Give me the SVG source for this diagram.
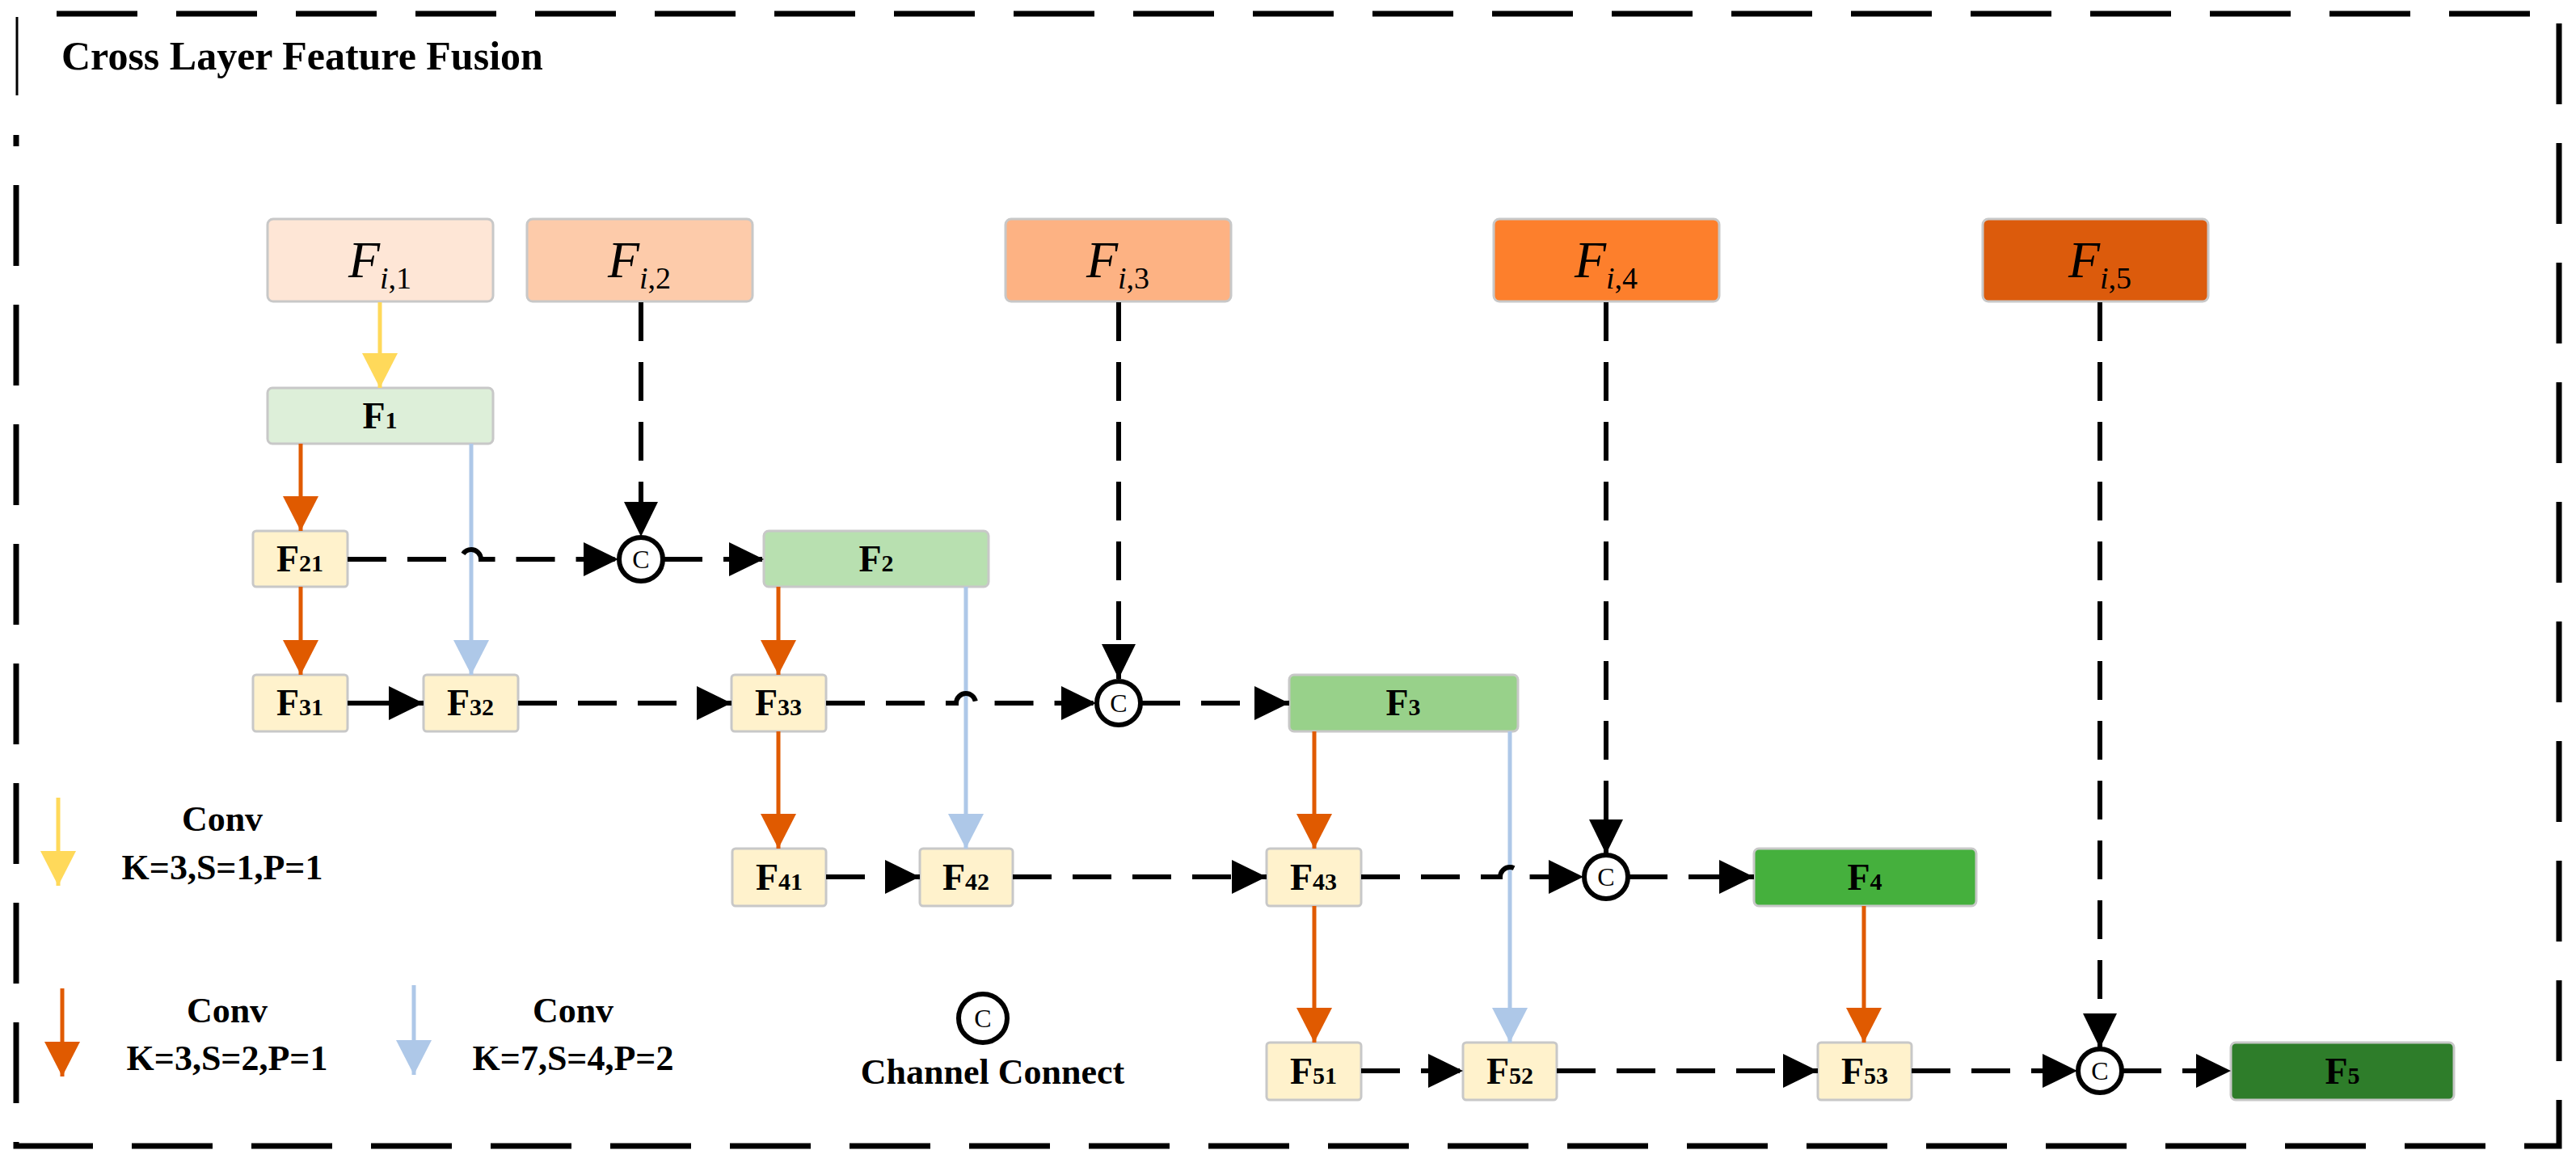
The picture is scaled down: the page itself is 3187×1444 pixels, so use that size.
<svg xmlns="http://www.w3.org/2000/svg" width="3187" height="1444" viewBox="0 0 3187 1444">
<defs>
<style>
.box{stroke:#C8C8C8;stroke-width:3}
.lbl{font-family:"Liberation Serif",serif;font-weight:bold;font-size:46px;text-anchor:middle;fill:#000}
.fi{font-family:"Liberation Serif",serif;font-size:64px;text-anchor:middle;fill:#000}
.cc{fill:#fff;stroke:#000;stroke-width:6}
.ct{font-family:"Liberation Serif",serif;font-size:32px;text-anchor:middle;fill:#000}
.dash{fill:none;stroke:#000;stroke-width:6;stroke-dasharray:48 26}
.solid{fill:none;stroke:#000;stroke-width:6}
.or{fill:none;stroke:#E05A00;stroke-width:5}
.bl{fill:none;stroke:#AEC8E8;stroke-width:5}
.ye{fill:none;stroke:#FFD95A;stroke-width:5}
.leg{font-family:"Liberation Serif",serif;font-weight:bold;font-size:44px;text-anchor:middle;fill:#000}
</style>
<marker id="ak" markerUnits="userSpaceOnUse" markerWidth="43" markerHeight="42" refX="43" refY="21" orient="auto"><path d="M0,0L43,21L0,42z" fill="#000"/></marker>
<marker id="ao" markerUnits="userSpaceOnUse" markerWidth="43" markerHeight="44" refX="43" refY="22" orient="auto"><path d="M0,0L43,22L0,44z" fill="#E05A00"/></marker>
<marker id="ab" markerUnits="userSpaceOnUse" markerWidth="43" markerHeight="44" refX="43" refY="22" orient="auto"><path d="M0,0L43,22L0,44z" fill="#AEC8E8"/></marker>
<marker id="ay" markerUnits="userSpaceOnUse" markerWidth="43" markerHeight="44" refX="43" refY="22" orient="auto"><path d="M0,0L43,22L0,44z" fill="#FFD95A"/></marker>
</defs>
<rect width="3187" height="1444" fill="#fff"/>
<g id="frame" fill="none" stroke="#000">
<path d="M21,21V118" stroke-width="3"/>
<path d="M70,17H3166V1418H20V167" stroke-width="7" stroke-dasharray="100 48"/>
</g>
<text x="76" y="86" font-family="Liberation Serif,serif" font-weight="bold" font-size="50">Cross Layer Feature Fusion</text>

<g id="Fi1"><rect class="box" x="331" y="271" width="279" height="102" rx="7" fill="#FEE6D6"/><text class="fi" x="470" y="343"><tspan font-style="italic">F</tspan><tspan font-size="38" dy="14"><tspan font-style="italic">i</tspan>,1</tspan></text></g>
<g id="Fi2"><rect class="box" x="652" y="271" width="279" height="102" rx="7" fill="#FDCBAA"/><text class="fi" x="791" y="343"><tspan font-style="italic">F</tspan><tspan font-size="38" dy="14"><tspan font-style="italic">i</tspan>,2</tspan></text></g>
<g id="Fi3"><rect class="box" x="1244" y="271" width="279" height="102" rx="7" fill="#FDB283"/><text class="fi" x="1383" y="343"><tspan font-style="italic">F</tspan><tspan font-size="38" dy="14"><tspan font-style="italic">i</tspan>,3</tspan></text></g>
<g id="Fi4"><rect class="box" x="1848" y="271" width="279" height="102" rx="7" fill="#FD7F2C"/><text class="fi" x="1987" y="343"><tspan font-style="italic">F</tspan><tspan font-size="38" dy="14"><tspan font-style="italic">i</tspan>,4</tspan></text></g>
<g id="Fi5"><rect class="box" x="2453" y="271" width="279" height="102" rx="7" fill="#DC5B0C"/><text class="fi" x="2598" y="343"><tspan font-style="italic">F</tspan><tspan font-size="38" dy="14"><tspan font-style="italic">i</tspan>,5</tspan></text></g>

<g id="F1"><rect class="box" x="331" y="480" width="279" height="69" rx="6" fill="#DDEFD9"/><text class="lbl" x="470" y="530">F<tspan font-size="30">1</tspan></text></g>
<g id="F2"><rect class="box" x="945" y="657" width="278" height="69" rx="6" fill="#B8E0B0"/><text class="lbl" x="1084" y="707">F<tspan font-size="30">2</tspan></text></g>
<g id="F3"><rect class="box" x="1595" y="835" width="283" height="70" rx="6" fill="#98D18A"/><text class="lbl" x="1736" y="885">F<tspan font-size="30">3</tspan></text></g>
<g id="F4"><rect class="box" x="2170" y="1050" width="275" height="71" rx="6" fill="#45B03D"/><text class="lbl" x="2307" y="1101">F<tspan font-size="30">4</tspan></text></g>
<g id="F5"><rect class="box" x="2760" y="1290" width="276" height="71" rx="6" fill="#2E7D2A"/><text class="lbl" x="2898" y="1341">F<tspan font-size="30">5</tspan></text></g>

<g id="F21"><rect class="box" x="313" y="657" width="117" height="69" rx="4" fill="#FFF2CC"/><text class="lbl" x="371" y="707">F<tspan font-size="30">21</tspan></text></g>
<g id="F31"><rect class="box" x="313" y="835" width="117" height="70" rx="4" fill="#FFF2CC"/><text class="lbl" x="371" y="885">F<tspan font-size="30">31</tspan></text></g>
<g id="F32"><rect class="box" x="524" y="835" width="117" height="70" rx="4" fill="#FFF2CC"/><text class="lbl" x="582" y="885">F<tspan font-size="30">32</tspan></text></g>
<g id="F33"><rect class="box" x="905" y="835" width="117" height="70" rx="4" fill="#FFF2CC"/><text class="lbl" x="963" y="885">F<tspan font-size="30">33</tspan></text></g>
<g id="F41"><rect class="box" x="906" y="1050" width="116" height="71" rx="4" fill="#FFF2CC"/><text class="lbl" x="964" y="1101">F<tspan font-size="30">41</tspan></text></g>
<g id="F42"><rect class="box" x="1138" y="1050" width="115" height="71" rx="4" fill="#FFF2CC"/><text class="lbl" x="1195" y="1101">F<tspan font-size="30">42</tspan></text></g>
<g id="F43"><rect class="box" x="1567" y="1050" width="117" height="71" rx="4" fill="#FFF2CC"/><text class="lbl" x="1625" y="1101">F<tspan font-size="30">43</tspan></text></g>
<g id="F51"><rect class="box" x="1567" y="1290" width="117" height="71" rx="4" fill="#FFF2CC"/><text class="lbl" x="1625" y="1341">F<tspan font-size="30">51</tspan></text></g>
<g id="F52"><rect class="box" x="1810" y="1290" width="116" height="71" rx="4" fill="#FFF2CC"/><text class="lbl" x="1868" y="1341">F<tspan font-size="30">52</tspan></text></g>
<g id="F53"><rect class="box" x="2249" y="1290" width="116" height="71" rx="4" fill="#FFF2CC"/><text class="lbl" x="2307" y="1341">F<tspan font-size="30">53</tspan></text></g>

<g id="connectors">
<path class="ye" d="M470,374V480" marker-end="url(#ay)"/>
<path class="or" d="M372,549V657" marker-end="url(#ao)"/>
<path class="or" d="M372,726V835" marker-end="url(#ao)"/>
<path class="bl" d="M583,549V835" marker-end="url(#ab)"/>
<path class="or" d="M963,726V835" marker-end="url(#ao)"/>
<path class="bl" d="M1195,726V1050" marker-end="url(#ab)"/>
<path class="or" d="M963,905V1050" marker-end="url(#ao)"/>
<path class="or" d="M1626,905V1050" marker-end="url(#ao)"/>
<path class="bl" d="M1868,905V1290" marker-end="url(#ab)"/>
<path class="or" d="M1626,1121V1290" marker-end="url(#ao)"/>
<path class="or" d="M2306,1121V1290" marker-end="url(#ao)"/>

<path class="dash" d="M793,374V664" marker-end="url(#ak)"/>
<path class="dash" d="M1384,374V840" marker-end="url(#ak)"/>
<path class="dash" d="M1987,374V1057" marker-end="url(#ak)"/>
<path class="dash" d="M2598,374V1297" marker-end="url(#ak)"/>

<path class="dash" d="M430,692H571a12,12 0 0 1 24,0H765" marker-end="url(#ak)"/>
<path class="dash" d="M821,692H945" marker-end="url(#ak)"/>
<path class="solid" d="M430,870H524" marker-end="url(#ak)"/>
<path class="dash" d="M641,870H905" marker-end="url(#ak)"/>
<path class="dash" d="M1022,870H1183a12,12 0 0 1 24,0H1356" marker-end="url(#ak)"/>
<path class="dash" d="M1412,870H1595" marker-end="url(#ak)"/>
<path class="dash" d="M1022,1085H1138" marker-end="url(#ak)"/>
<path class="dash" d="M1253,1085H1567" marker-end="url(#ak)"/>
<path class="dash" d="M1684,1085H1856a12,12 0 0 1 24,0H1959" marker-end="url(#ak)"/>
<path class="dash" d="M2015,1085H2170" marker-end="url(#ak)"/>
<path class="dash" d="M1684,1325H1810" marker-end="url(#ak)"/>
<path class="dash" d="M1926,1325H2249" marker-end="url(#ak)"/>
<path class="dash" d="M2365,1325H2570" marker-end="url(#ak)"/>
<path class="dash" d="M2626,1325H2760" marker-end="url(#ak)"/>
</g>

<g id="C1"><circle class="cc" cx="793" cy="692" r="27"/><text class="ct" x="793" y="703">C</text></g>
<g id="C2"><circle class="cc" cx="1384" cy="870" r="27"/><text class="ct" x="1384" y="881">C</text></g>
<g id="C3"><circle class="cc" cx="1987" cy="1085" r="27"/><text class="ct" x="1987" y="1096">C</text></g>
<g id="C4"><circle class="cc" cx="2598" cy="1325" r="27"/><text class="ct" x="2598" y="1336">C</text></g>

<g id="legend">
<path class="ye" d="M72,987V1096" marker-end="url(#ay)"/>
<text class="leg" x="275" y="1028">Conv</text>
<text class="leg" x="275" y="1088">K=3,S=1,P=1</text>
<path class="or" d="M77,1223V1332" marker-end="url(#ao)"/>
<text class="leg" x="281" y="1265">Conv</text>
<text class="leg" x="281" y="1324">K=3,S=2,P=1</text>
<path class="bl" d="M512,1219V1330" marker-end="url(#ab)"/>
<text class="leg" x="709" y="1265">Conv</text>
<text class="leg" x="709" y="1324">K=7,S=4,P=2</text>
<circle class="cc" cx="1216" cy="1260" r="30"/><text class="ct" x="1216" y="1271">C</text>
<text class="leg" x="1228" y="1341">Channel Connect</text>
</g>
</svg>
